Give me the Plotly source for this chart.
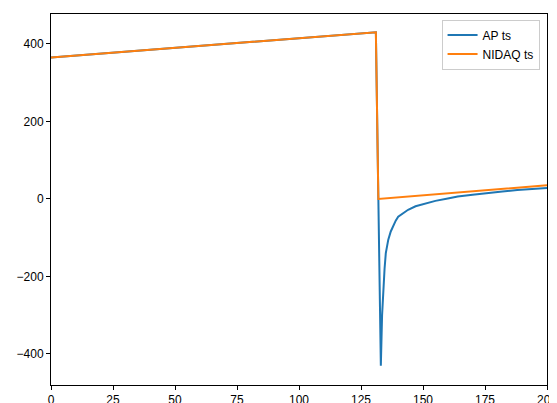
import plotly.graph_objects as go

ap_x = [0, 131, 132, 133, 133.5, 134, 134.5, 135, 135.5, 136, 137, 138, 139, 140, 142, 144, 147, 150, 155, 160, 164, 170, 175, 182, 188, 194, 200]
ap_y = [365, 430, 0, -430, -300, -230, -180, -140, -120, -105, -84, -68, -56, -46, -36, -28, -19, -13, -5, 1, 6, 11, 15, 19, 23, 26, 28]

ni_x = [0, 131, 132, 200]
ni_y = [365, 430, 0, 35]

fig = go.Figure()
fig.add_trace(go.Scatter(x=ap_x, y=ap_y, mode='lines', name='AP ts',
                         line=dict(color='#1f77b4', width=2)))
fig.add_trace(go.Scatter(x=ni_x, y=ni_y, mode='lines', name='NIDAQ ts',
                         line=dict(color='#ff7f0e', width=2)))

axis = dict(showgrid=False, zeroline=False, showline=True, linecolor='black', linewidth=1,
            mirror=True, ticks='outside', ticklen=4, tickcolor='black', automargin=False,
            tickfont=dict(size=12, color='black'))
fig.update_xaxes(range=[0, 200], tickvals=[0, 25, 50, 75, 100, 125, 150, 175, 200], **axis)
fig.update_yaxes(range=[-480, 477], tickvals=[-400, -200, 0, 200, 400], **axis)
fig.update_layout(width=557, height=403, plot_bgcolor='white', paper_bgcolor='white',
                  font=dict(family='Liberation Sans, Arial', size=12, color='black'),
                  margin=dict(l=43, r=18, t=6, b=26),
                  legend=dict(x=0.985, y=0.985, xanchor='right', yanchor='top',
                              bordercolor='#cccccc', borderwidth=1, bgcolor='white',
                              font=dict(size=12)))
fig.write_html("out.html")
